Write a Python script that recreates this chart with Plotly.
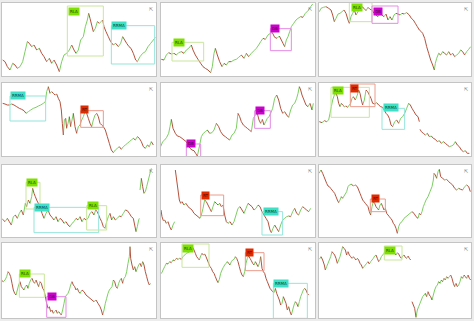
import plotly.graph_objects as go

# ---- series: (time index, level measured down from panel top) ; None = gap ----
s1 = [(8,180),(15,185),(22,200),(30,210),(38,190),(45,195),(52,205),(60,200),(68,185),(75,155),(82,125),(88,130),(95,140),(102,135),(110,150),(118,145),(125,160),(132,170),(140,185),(148,175),(155,190),(162,180),(170,195),(178,215),(185,185),(192,165),(200,160),(208,150),(215,135),(222,150),(228,160),(235,150),(242,120),(250,110),(256,80),(262,60),(266,40),(270,55),(275,75),(280,95),(286,85),(292,65),(298,70),(303,65),(308,60),(312,80),(318,95),(325,110),(332,125),(340,135),(347,130),(355,140),(362,130),(368,110),(374,120),(380,130),(387,140),(393,145),(400,160),(407,180),(412,185),(420,170),(428,160),(436,155),(444,140),(452,130),(460,120),(466,112)]
s2 = [(10,178),(18,180),(25,165),(32,158),(40,162),(48,160),(55,165),(62,158),(70,155),(78,160),(85,150),(92,145),(100,135),(105,150),(112,165),(120,178),(128,190),(135,200),(142,205),(150,210),(158,218),(163,200),(168,160),(172,145),(178,165),(185,185),(192,200),(198,190),(205,195),(212,185),(220,185),(228,180),(235,178),(242,172),(250,165),(258,175),(265,160),(272,170),(280,160),(288,152),(295,145),(302,135),(308,125),(315,115),(322,118),(330,105),(337,100),(343,98),(350,112),(357,115),(364,108),(370,120),(375,130),(380,140),(385,120),(390,110),(395,95),(400,80),(407,70),(414,60),(420,55),(428,50),(435,52),(442,40),(450,32),(458,20),(464,12)]
s3 = [(10,35),(15,25),(22,22),(30,20),(38,25),(45,30),(50,45),(55,65),(60,55),(66,42),(72,40),(78,35),(84,30),(90,40),(96,60),(100,70),(105,50),(110,40),(115,30),(120,45),(126,35),(132,25),(138,20),(144,25),(150,32),(156,22),(162,28),(168,30),(174,40),(180,45),(186,50),(192,40),(198,45),(204,50),(210,42),(216,60),(222,50),(228,60),(234,45),(240,40),(246,42),(252,45),(258,40),(264,42),(272,38),(280,45),(286,55),(292,60),(298,70),(304,80),(310,90),(316,95),(320,100),(326,115),(332,140),(338,160),(344,180),(350,195),(355,210),(358,190),(362,175),(368,160),(374,165),(380,155),(386,160),(392,165),(398,155),(404,165),(410,160),(416,170),(422,165),(428,160),(434,150),(440,155),(446,165),(452,155),(458,148),(464,140)]
s4 = [(8,70),(15,72),(22,75),(28,75),(35,72),(42,75),(50,80),(58,85),(65,88),(72,92),(78,100),(85,95),(92,90),(100,85),(108,82),(115,78),(122,75),(130,70),(136,65),(140,35),(145,20),(150,40),(155,35),(160,40),(165,45),(170,42),(175,55),(180,65),(184,90),(187,130),(190,165),(193,120),(197,115),(200,145),(204,130),(208,110),(212,140),(216,120),(220,100),(225,140),(230,160),(235,140),(240,135),(245,120),(250,110),(255,95),(260,100),(265,115),(270,130),(275,140),(280,120),(285,105),(290,100),(295,110),(300,130),(305,135),(310,140),(316,150),(322,170),(328,190),(334,210),(340,218),(346,210),(352,205),(358,200),(364,208),(370,200),(376,195),(382,190),(388,185),(394,180),(400,175),(406,180),(412,170),(418,175),(424,185),(430,200),(436,205),(442,195),(448,200),(454,185),(460,195)]
s5 = [(8,200),(14,185),(20,180),(26,172),(32,160),(36,140),(40,118),(45,145),(52,160),(58,168),(65,170),(72,175),(78,180),(85,185),(90,195),(96,205),(102,210),(108,212),(113,220),(118,228),(122,210),(126,190),(130,170),(136,160),(142,155),(148,150),(155,160),(162,158),(168,150),(175,130),(182,140),(188,155),(195,165),(202,170),(208,175),(215,180),(222,165),(228,160),(235,145),(240,100),(245,110),(250,125),(256,135),(262,140),(268,145),(274,150),(280,155),(286,115),(292,105),(298,100),(303,120),(308,130),(313,118),(318,135),(323,125),(328,115),(333,110),(338,100),(344,85),(350,55),(356,45),(362,60),(368,85),(374,100),(380,95),(386,105),(392,112),(398,90),(404,75),(410,70),(416,55),(420,40),(424,20),(428,30),(432,45),(438,60),(444,75),(450,80),(456,70),(462,90),(466,70)]
s6 = [(10,125),(18,128),(25,122),(32,125),(38,120),(42,100),(46,80),(50,60),(55,45),(60,40),(64,50),(68,70),(72,80),(76,70),(80,75),(85,80),(90,78),(95,82),(100,75),(104,70),(108,55),(112,50),(118,60),(124,45),(128,30),(132,40),(136,60),(140,75),(145,60),(150,30),(155,35),(160,45),(165,55),(170,70),(176,72),(182,68),(188,75),(194,80),(200,82),(205,90),(210,100),(215,105),(220,115),(225,135),(230,140),(236,125),(242,120),(248,130),(254,115),(260,110),(266,100),(272,85),(278,70),(283,75),(288,85),(294,95),(300,105),(306,110),(310,125),(None,None),(312,148),(316,155),(322,160),(328,165),(334,160),(340,170),(346,168),(352,175),(358,178),(364,185),(370,182),(376,190),(382,185),(388,190),(394,195),(400,200),(406,198),(412,195),(418,185),(424,195),(430,200),(436,210),(442,215),(448,212),(454,220),(460,220)]
s7 = [(2,180),(8,178),(15,185),(22,175),(28,185),(34,195),(40,170),(46,165),(52,175),(58,160),(64,150),(70,165),(76,130),(80,140),(85,120),(90,130),(95,110),(98,85),(102,100),(106,110),(110,120),(115,130),(120,140),(126,160),(132,175),(138,160),(144,150),(150,165),(156,172),(162,180),(168,170),(174,185),(180,175),(186,180),(192,190),(198,185),(204,195),(210,200),(216,190),(222,185),(228,175),(234,180),(240,170),(246,185),(252,175),(258,180),(264,175),(270,160),(276,155),(282,165),(287,150),(292,155),(296,165),(300,175),(305,185),(310,200),(315,205),(320,185),(325,170),(330,160),(335,180),(340,170),(346,180),(352,175),(358,168),(364,170),(370,160),(376,150),(382,152),(388,160),(394,170),(400,175),(404,195),(408,215),(412,200),(416,180),(418,175),(None,None),(420,90),(424,55),(428,80),(432,100),(436,95),(440,80),(445,60),(450,40),(454,25)]
s8 = [(9,150),(12,170),(16,182),(20,180),(25,190),(30,185),(35,200),(40,210),(45,195),(50,185),(None,None),(52,30),(56,60),(60,90),(64,120),(68,130),(72,125),(78,135),(84,130),(90,140),(96,145),(102,150),(108,160),(114,165),(120,170),(126,175),(130,165),(135,145),(140,120),(145,125),(150,135),(155,145),(160,155),(165,140),(170,125),(175,130),(180,135),(185,130),(190,140),(195,135),(200,165),(205,185),(210,190),(216,185),(222,195),(228,185),(234,165),(240,145),(246,140),(252,150),(258,160),(264,145),(270,130),(276,135),(282,140),(288,150),(294,145),(300,135),(306,140),(312,155),(318,165),(324,175),(330,185),(336,210),(340,218),(345,205),(350,195),(356,205),(362,215),(368,195),(374,180),(380,175),(386,170),(392,168),(398,170),(404,155),(410,145),(416,160),(422,165),(428,150),(434,140),(440,145),(446,150),(452,155),(458,145)]
s9 = [(9,40),(12,35),(15,30),(20,40),(24,50),(28,60),(32,70),(36,78),(40,80),(44,85),(48,90),(52,95),(56,100),(60,110),(64,120),(68,128),(72,120),(76,110),(80,115),(86,105),(92,95),(96,80),(100,75),(106,72),(112,78),(118,75),(124,80),(128,90),(132,100),(136,110),(140,120),(144,125),(148,130),(152,135),(156,140),(160,155),(164,165),(168,140),(172,125),(176,130),(180,140),(184,145),(188,150),(192,135),(196,130),(200,140),(204,150),(208,145),(212,160),(216,165),(220,170),(224,175),(228,180),(232,190),(236,195),(240,205),(244,220),(248,200),(252,190),(258,185),(264,175),(270,170),(276,165),(282,160),(288,155),(294,160),(300,170),(306,175),(310,160),(314,165),(318,155),(322,140),(326,130),(330,120),(336,110),(342,95),(348,80),(352,60),(354,40),(358,45),(362,55),(366,35),(370,28),(374,50),(380,55),(386,60),(392,58),(398,65),(404,70),(410,75),(416,85),(422,90),(428,85),(434,88),(440,90),(446,80),(452,75),(458,80),(463,95)]
s10 = [(6,122),(10,125),(15,120),(20,110),(24,95),(28,100),(32,110),(36,130),(40,150),(44,160),(48,165),(52,150),(56,135),(60,125),(64,140),(68,145),(72,150),(76,140),(80,135),(84,145),(88,130),(92,120),(96,115),(100,125),(104,130),(108,120),(112,130),(116,140),(120,125),(124,130),(128,145),(132,150),(136,170),(140,190),(144,205),(148,200),(152,215),(156,210),(160,220),(164,215),(168,210),(172,220),(176,215),(180,220),(184,225),(188,210),(192,190),(196,170),(200,165),(204,160),(208,150),(212,135),(216,125),(220,135),(224,140),(228,150),(232,145),(236,155),(240,160),(246,150),(252,155),(258,165),(264,170),(270,175),(276,180),(282,185),(288,180),(294,190),(300,200),(304,210),(308,225),(312,210),(316,190),(320,175),(324,160),(328,150),(332,145),(336,140),(340,120),(344,125),(348,140),(352,145),(356,130),(360,120),(364,115),(368,130),(372,115),(376,110),(380,95),(384,70),(388,50),(390,20),(392,55),(396,75),(400,90),(404,80),(408,95),(412,85),(416,75),(420,70),(424,80),(428,65),(432,75),(436,95),(440,110),(444,125),(448,135),(452,130)]
s11 = [(9,100),(12,98),(15,90),(20,80),(25,70),(30,72),(35,65),(40,68),(45,60),(50,62),(55,55),(60,58),(65,55),(70,58),(75,50),(80,45),(85,40),(90,38),(95,35),(100,30),(104,22),(108,30),(112,40),(116,50),(120,55),(124,60),(128,48),(132,40),(136,45),(140,42),(144,50),(148,60),(152,70),(156,80),(160,85),(164,95),(168,100),(172,110),(176,120),(180,128),(184,118),(188,100),(192,90),(196,82),(200,75),(204,70),(208,65),(212,70),(216,75),(220,65),(224,60),(228,58),(232,50),(236,55),(240,65),(244,80),(248,95),(252,105),(256,110),(260,95),(264,70),(268,55),(272,48),(276,55),(280,62),(284,70),(288,75),(292,65),(296,72),(300,80),(304,70),(308,50),(312,85),(316,95),(320,100),(324,115),(328,125),(332,135),(336,145),(340,150),(344,155),(348,158),(352,145),(356,160),(360,170),(364,180),(368,195),(372,190),(376,170),(380,180),(384,190),(388,210),(392,200),(396,215),(400,225),(404,210),(408,195),(412,185),(416,190),(420,200),(424,185),(428,170),(432,160),(436,150),(440,145),(444,150),(448,160),(452,165)]
s12 = [(9,58),(12,55),(15,50),(20,60),(25,75),(28,90),(32,80),(36,70),(40,60),(44,50),(48,35),(52,40),(56,45),(60,55),(64,70),(68,60),(72,50),(76,35),(80,20),(84,25),(88,30),(92,45),(96,35),(100,45),(104,50),(108,55),(112,50),(116,55),(120,60),(124,55),(128,60),(132,70),(136,75),(140,85),(144,80),(148,75),(152,70),(156,65),(160,72),(164,65),(168,60),(172,55),(176,48),(180,45),(184,55),(188,65),(192,60),(196,50),(200,45),(204,40),(208,30),(212,28),(216,32),(220,25),(224,30),(228,40),(232,35),(236,40),(240,45),(244,38),(248,42),(252,50),(256,55),(260,48),(264,45),(268,52),(272,55),(276,48),(280,55),(284,60),(None,None),(288,185),(292,195),(296,205),(300,232),(304,210),(308,200),(312,190),(316,180),(320,170),(324,165),(328,160),(332,170),(336,155),(340,165),(344,170),(348,180),(352,165),(356,150),(360,140),(364,135),(368,125),(372,130),(376,120),(380,125),(384,115),(388,120),(392,110),(396,115),(400,110),(404,105),(408,115),(412,130),(416,140),(420,130),(424,140),(428,135),(432,125),(436,110),(440,115),(444,105),(448,110),(452,115),(456,105),(460,115),(464,120)]
series = [s1, s2, s3, s4, s5, s6, s7, s8, s9, s10, s11, s12]

# ---- pattern boxes: (kind, x0, x1, top, bottom, label_x, label_top) ----
boxes = [
    [("g",202,310,18,168,204,20), ("c",334,464,77,192,334,63)],
    [("g",42,137,127,183,44,113), ("m",337,400,86,152,337,72)],
    [("g",100,168,8,65,105,9), ("m",168,246,18,70,170,20)],
    [("c",30,137,48,123,30,33), ("r",242,310,92,142,240,76)],
    [("m",85,128,192,230,85,178), ("m",290,337,92,145,292,78)],
    [("g",45,160,22,112,47,18), ("r",103,177,12,80,103,12), ("c",198,266,85,148,200,70)],
    [("g",78,120,67,147,78,53), ("c",102,296,142,218,103,129), ("g",260,320,137,210,260,123)],
    [("r",128,197,105,167,130,92), ("c",312,374,155,225,314,142)],
    [("r",163,208,117,155,165,101)],
    [("g",58,133,102,172,58,88), ("m",140,198,170,232,142,155)],
    [("g",72,153,12,82,73,12), ("r",262,318,38,92,262,24), ("c",346,448,130,235,346,116)],
    [("g",205,258,18,60,205,18)],
]
labels = {"g": "RLA", "c": "RRMA", "m": "DB", "r": "RT"}

# ---- styling / layout ----
box_style = {
    "g": dict(line="#c9e79c", bg="#7ee000", fg="#1d4d00"),
    "c": dict(line="#93e5dc", bg="#3fe0c8", fg="#00473c"),
    "m": dict(line="#e58be5", bg="#cc00cc", fg="#3a003a"),
    "r": dict(line="#eb9c8c", bg="#e02a00", fg="#4a0c00"),
}
UP, DOWN = "#7ccf62", "#b5523e"
W, H = 474, 321
col_px = [(2, 156), (161, 315), (319, 471)]
row_px = [(3, 76), (83, 156), (165, 237), (243, 318)]
col_x0 = [0, 158, 316]
row_y0 = [0, 80, 160, 240]

fig = go.Figure()
layout = dict(width=W, height=H, margin=dict(l=0, r=0, t=0, b=0),
              paper_bgcolor="#ececec", plot_bgcolor="#ffffff", showlegend=False)
annotations, shapes = [], []

for k in range(12):
    r, c = divmod(k, 3)
    sfx = "" if k == 0 else str(k + 1)
    xa, ya = "x" + sfx, "y" + sfx
    (L, R), (T, B) = col_px[c], row_px[r]
    xr = [(L - col_x0[c]) * 3, (R - col_x0[c]) * 3]
    yr = [(B - row_y0[r]) * 3, (T - row_y0[r]) * 3]
    axcommon = dict(showgrid=False, zeroline=False, showticklabels=False, ticks="",
                    showline=True, mirror=True, linecolor="#c4c4c4", linewidth=1, fixedrange=True)
    layout["xaxis" + sfx] = dict(domain=[L / W, R / W], range=xr, anchor=ya, **axcommon)
    layout["yaxis" + sfx] = dict(domain=[1 - B / H, 1 - T / H], range=yr, anchor=xa, **axcommon)

    pts = series[k]
    ux, uy, dx, dy = [], [], [], []
    for (x0, y0), (x1, y1) in zip(pts[:-1], pts[1:]):
        if x0 is None or x1 is None:
            continue
        if y1 < y0:
            ux += [x0, x1, None]; uy += [y0, y1, None]
        else:
            dx += [x0, x1, None]; dy += [y0, y1, None]
    fig.add_trace(go.Scatter(x=ux, y=uy, mode="lines", line=dict(color=UP, width=1),
                             xaxis=xa, yaxis=ya, hoverinfo="skip"))
    fig.add_trace(go.Scatter(x=dx, y=dy, mode="lines", line=dict(color=DOWN, width=1),
                             xaxis=xa, yaxis=ya, hoverinfo="skip"))

    for kind, bx0, bx1, bt, bb, lx, lt in boxes[k]:
        st = box_style[kind]
        shapes.append(dict(type="rect", xref=xa, yref=ya, x0=bx0, x1=bx1, y0=bt, y1=bb,
                           line=dict(color=st["line"], width=1), fillcolor="rgba(0,0,0,0)"))
        annotations.append(dict(xref=xa, yref=ya, x=lx, y=lt, xanchor="left", yanchor="top",
                                text=labels[kind], showarrow=False, bgcolor=st["bg"],
                                font=dict(size=4, color=st["fg"], family="DejaVu Sans"),
                                borderpad=1))
    annotations.append(dict(xref=xa + " domain", yref=ya + " domain", x=0.995, y=0.99,
                            xanchor="right", yanchor="top", text="⇱", showarrow=False,
                            font=dict(size=5, color="#888888")))

layout["shapes"] = shapes
layout["annotations"] = annotations
fig.update_layout(**layout)
fig.write_html("out.html")
